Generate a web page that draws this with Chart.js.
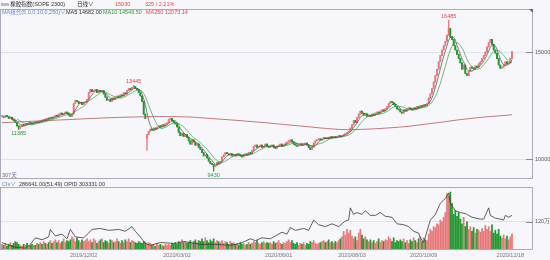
<!DOCTYPE html>
<html>
<head>
<meta charset="utf-8">
<script src="https://cdn.jsdelivr.net/npm/chart.js@4/dist/chart.umd.min.js"></script>
<style>
  body { margin: 0; background: #f7f7fb; }
  #wrap { position: relative; width: 550px; height: 260px; overflow: hidden; font-family: "Liberation Sans", "Noto Sans CJK SC", sans-serif; }
  canvas { position: absolute; left: 0; }
  #kline { top: 0; }
  #vol { top: 183px; }
  .t { position: absolute; font-size: 5.5px; line-height: 1; white-space: nowrap; z-index: 2; }
  .red { color: #e0474c; }
  .green { color: #2f9a3a; }
  .blue { color: #6a86c0; }
  .dark { color: #333; }
  #corner { position: absolute; left: 529px; top: 9px; width: 0; height: 0; border-left: 4px solid transparent; border-top: 4px solid #666; z-index: 2; }
</style>
</head>
<body>
<div id="wrap">
  <canvas id="kline" width="550" height="183"></canvas>
  <canvas id="vol" width="550" height="77"></canvas>

  <div class="t dark" style="left:1px;top:2px">∞∞ 橡胶指数(SOPE 2300)</div>
  <div class="t dark" style="left:77px;top:2px">日线∨</div>
  <div class="t red" style="left:115px;top:2px">15030</div>
  <div class="t red" style="left:145px;top:2px">325 / 2.21%</div>

  <div class="t blue" style="left:2px;top:9.5px">MA组合(5,0,0,10,0,250)∨</div>
  <div class="t dark" style="left:66px;top:9.5px">MA5 14682.00</div>
  <div class="t green" style="left:103px;top:9.5px">MA10 14546.50</div>
  <div class="t red" style="left:146px;top:9.5px">MA250 12073.14</div>

  <div class="t" style="left:2px;top:173px;color:#6a6a90">307天</div>
  <div class="t blue" style="left:2px;top:182px">CIs∨</div>
  <div class="t dark" style="left:19px;top:182px">286641.00(51:49)</div>
  <div class="t dark" style="left:64px;top:182px">OPID 303331.00</div>
  <div id="corner"></div>
</div>

<script>
// daily closes, 307 trading days
const closes = [
  12000, 11950, 12050, 11980, 11900, 11950, 11850, 11800, 11700, 11550,
  11450, 11520, 11600, 11580, 11650, 11620, 11700, 11680, 11650, 11720,
  11700, 11760, 11720, 11800, 11780, 11850, 11820, 11900, 11880, 11950,
  11920, 11980, 12050, 12000, 12100, 12150, 12080, 12120, 12200, 12150,
  12050, 12000, 12100, 12600, 12750, 12700, 12600, 12650, 12550, 12650,
  12700, 12800, 13100, 13250, 13150, 13200, 13250, 13100, 13200, 13150,
  13200, 13050, 12900, 12750, 12800, 12700, 12850, 12800, 12900, 12950,
  12900, 13000, 12950, 13100, 13050, 13200, 13300, 13250, 13350, 13400,
  13300, 13250, 13100, 12950, 12700, 12100, 11900, 11150, 11300, 11400,
  11350, 11450, 11400, 11500, 11550, 11500, 11600, 11550, 11650, 11700,
  11850, 11900, 11800, 11700, 11650, 11500, 11250, 11100, 11200, 11050,
  11150, 11000, 10850, 10700, 10900, 10800, 10650, 10700, 10550, 10450,
  10300, 10150, 10200, 10050, 9900, 9800, 9750, 9650, 9700, 9850,
  9800, 9900, 10100, 10200, 10300, 10250, 10200, 10250, 10150, 10200,
  10150, 10250, 10200, 10150, 10100, 10200, 10250, 10200, 10300, 10250,
  10400, 10600, 10650, 10550, 10600, 10650, 10550, 10600, 10700, 10600,
  10550, 10600, 10650, 10550, 10500, 10600, 10650, 10700, 10600, 10650,
  10750, 10800, 10850, 10900, 10800, 10700, 10650, 10600, 10650, 10700,
  10650, 10700, 10750, 10650, 10550, 10450, 10550, 10750, 10850, 10900,
  10950, 10900, 10950, 11000, 10950, 11000, 10950, 11050, 11000, 11050,
  11000, 11050, 11100, 11050, 11100, 11150, 11200, 11250, 11300, 11450,
  11600, 11800, 11700, 11950, 12100, 12250, 12150, 12050, 12100, 12000,
  12050, 12000, 12100, 12050, 12150, 12200, 12150, 12250, 12300, 12250,
  12350, 12450, 12600, 12700, 12650, 12550, 12450, 12350, 12300, 12200,
  12150, 12300, 12250, 12350, 12400, 12350, 12300, 12400, 12350, 12450,
  12400, 12500, 12450, 12550, 12500, 12600, 12850, 13050, 13300, 13600,
  13900, 14200, 14550, 14850, 15100, 15300, 15500, 15800, 16100, 15700,
  15600, 15300, 15100, 14900, 14700, 14500, 14200, 14400, 14000, 13900,
  14100, 14300, 14250, 14200, 14350, 14300, 14450, 14550, 14700, 14850,
  15000, 15250, 15450, 15600, 15350, 15100, 14950, 14700, 14400, 14250,
  14300, 14400, 14550, 14450, 14500, 14700, 15030
];

// gap opening after the holiday
const gapIdx = [87];
const gapOpen = [10950];

// marked extremes
const extIdx = [10, 79, 127, 268];
const extVal = [11385, 13445, 9430, 16485];
const extKind = ['low', 'high', 'low', 'high'];
const extraLowIdx = [87];
const extraLow = [10400];

// MA250
const ma250Idx = [0, 35, 75, 107, 125, 155, 180, 200, 212, 239, 259, 281, 306];
const ma250Val = [11700, 11830, 11960, 11980, 11900, 11720, 11540, 11400, 11380, 11500, 11680, 11900, 12073];

// volume, 万
const volumes = [
  24, 20, 28, 16, 24, 32, 20, 28, 36, 32,
  24, 20, 16, 24, 20, 28, 16, 20, 24, 20,
  20, 28, 24, 32, 24, 36, 28, 24, 32, 40,
  28, 36, 44, 32, 40, 28, 36, 48, 32, 40,
  36, 44, 56, 48, 36, 52, 40, 32, 44, 36,
  40, 48, 36, 44, 32, 48, 40, 28, 36, 44,
  48, 32, 40, 36, 28, 44, 40, 32, 36, 48,
  36, 28, 40, 32, 44, 36, 48, 32, 40, 36,
  32, 28, 36, 32, 28, 36, 32, 24, 32, 28,
  20, 24, 16, 28, 20, 24, 20, 16, 24, 20,
  24, 20, 28, 24, 32, 24, 36, 28, 44, 32,
  36, 28, 32, 40, 28, 36, 44, 32, 40, 36,
  48, 36, 52, 40, 32, 44, 36, 48, 32, 40,
  36, 32, 40, 28, 36, 32, 24, 36, 28, 32,
  24, 28, 20, 32, 24, 28, 20, 24, 32, 24,
  28, 36, 32, 40, 28, 24, 32, 36, 28, 32,
  28, 32, 24, 36, 28, 32, 40, 28, 24, 32,
  28, 36, 44, 32, 40, 28, 24, 32, 20, 28,
  24, 32, 20, 28, 24, 36, 32, 40, 28, 24,
  28, 32, 36, 40, 32, 36, 44, 32, 36, 28,
  36, 32, 40, 48, 56, 80, 64, 88, 72, 84,
  60, 48, 56, 40, 72, 88, 64, 48, 56, 44,
  36, 44, 32, 40, 28, 36, 48, 32, 40, 36,
  44, 40, 56, 48, 36, 52, 32, 40, 36, 44,
  36, 48, 32, 40, 28, 44, 36, 52, 40, 32,
  48, 56, 36, 52, 44, 40, 68, 88, 80, 100,
  96, 112, 108, 128, 120, 140, 160, 240, 232, 248,
  200, 152, 168, 144, 160, 132, 112, 140, 100, 120,
  88, 100, 80, 96, 72, 88, 84, 76, 92, 80,
  104, 88, 100, 80, 108, 72, 84, 68, 88, 60,
  52, 64, 48, 60, 44, 56, 68
];

// open interest line, 万
const oiIdx = [0, 4, 8, 14, 17, 20, 24, 28, 29, 32, 36, 39, 41, 44, 49, 52, 54, 59, 64, 70, 74, 78, 80, 83, 86, 89,
  95, 104, 109, 113, 119, 128, 137, 143, 149, 152, 156, 161, 164, 168, 171, 173, 176, 181, 184, 187, 190, 194, 198,
  202, 206, 208, 209, 211, 213, 216, 218, 221, 224, 227, 230, 234, 237, 241, 244, 247, 250, 251, 253, 255, 257, 260,
  263, 266, 268, 269, 272, 275, 278, 282, 287, 289, 292, 293, 296, 299, 301, 302, 304, 306];
const oiVal = [32, 20, 12, 8, 24, 52, 44, 56, 88, 60, 68, 48, 88, 56, 52, 72, 88, 92, 84, 88, 80, 100, 80, 56, 28, 20,
  32, 28, 36, 32, 24, 24, 20, 28, 48, 40, 52, 48, 60, 76, 68, 96, 84, 92, 84, 128, 108, 100, 112,
  100, 124, 128, 180, 152, 160, 152, 168, 148, 148, 160, 144, 140, 112, 108, 100, 80, 72, 52, 32, 80, 128, 152,
  200, 220, 244, 200, 168, 160, 156, 140, 132, 132, 180, 148, 136, 132, 128, 148, 140, 148];

const tickIdx = [49, 105, 166, 210, 253, 305];
const tickLabels = ['2019/12/02', '2020/03/02', '2020/06/01', '2020/08/03', '2020/10/09', '2020/12/18'];
const priceTicks = [10000, 15000];

const UP = '#e5797b';
const DOWN = '#23962f';
const FONT = { family: 'Liberation Sans', size: 5.5 };

// candle opens follow the previous close
const opens = closes.map((c, i) => i === 0 ? c : closes[i - 1]);
gapIdx.forEach((g, k) => { opens[g] = gapOpen[k]; });
const highs = closes.map((c, i) => Math.max(c, opens[i]));
const lows = closes.map((c, i) => Math.min(c, opens[i]));
extIdx.forEach((g, k) => {
  if (extKind[k] === 'high') highs[g] = extVal[k]; else lows[g] = extVal[k];
});
extraLowIdx.forEach((g, k) => { lows[g] = extraLow[k]; });

const colors = closes.map((c, i) => c >= opens[i] ? UP : DOWN);

function movingAvg(arr, n) {
  return arr.map((_, i) => {
    if (i < n - 1) return null;
    let s = 0;
    for (let j = i - n + 1; j <= i; j++) s += arr[j];
    return s / n;
  });
}
const ma5 = movingAvg(closes, 5);
const ma10 = movingAvg(closes, 10);

const X_MIN = -1.2, X_MAX = 318.6;

// border round the plot area and short ticks at the right edge
const frame = {
  id: 'frame',
  afterDraw(chart) {
    const { ctx, chartArea: a } = chart;
    ctx.save();
    ctx.strokeStyle = '#a9adbb';
    ctx.lineWidth = 1;
    ctx.strokeRect(Math.round(a.left) + 0.5, Math.round(a.top) + 0.5, Math.round(a.right - a.left) - 1, Math.round(a.bottom - a.top) - 1);
    const y = chart.scales.y;
    ctx.strokeStyle = '#8a8a8a';
    y.ticks.forEach(t => {
      const py = Math.round(y.getPixelForValue(t.value)) + 0.5;
      ctx.beginPath();
      ctx.moveTo(a.right - 7, py);
      ctx.lineTo(a.right, py);
      ctx.stroke();
    });
    ctx.restore();
  }
};

const extLabels = {
  id: 'extLabels',
  afterDatasetsDraw(chart) {
    const { ctx, scales } = chart;
    ctx.save();
    ctx.font = '5.5px "Liberation Sans"';
    ctx.textAlign = 'center';
    extIdx.forEach((g, k) => {
      const px = scales.x.getPixelForValue(g);
      const py = scales.y.getPixelForValue(extVal[k]);
      if (extKind[k] === 'high') {
        ctx.fillStyle = '#e0474c';
        ctx.textBaseline = 'bottom';
        ctx.fillText(String(extVal[k]), px, py - 1);
      } else {
        ctx.fillStyle = '#2f9a3a';
        ctx.textBaseline = 'top';
        ctx.fillText(String(extVal[k]), px, py + 1);
      }
    });
    ctx.restore();
  }
};

const idx = closes.map((_, i) => i);

new Chart(document.getElementById('kline'), {
  type: 'bar',
  data: {
    datasets: [
      {
        label: 'wick',
        data: idx.map(i => ({ x: i, y: [lows[i], highs[i]] })),
        backgroundColor: colors,
        barThickness: 0.7,
        grouped: false,
        order: 3
      },
      {
        label: 'body',
        data: idx.map(i => ({ x: i, y: [opens[i], closes[i]] })),
        backgroundColor: colors,
        barThickness: 1.2,
        minBarLength: 1,
        grouped: false,
        order: 2
      },
      {
        type: 'line', label: 'MA5',
        data: idx.map(i => ({ x: i, y: ma5[i] })),
        borderColor: '#4a4a4a', borderWidth: 0.7, pointRadius: 0, order: 1
      },
      {
        type: 'line', label: 'MA10',
        data: idx.map(i => ({ x: i, y: ma10[i] })),
        borderColor: '#3a9e48', borderWidth: 0.7, pointRadius: 0, order: 1
      },
      {
        type: 'line', label: 'MA250',
        data: ma250Idx.map((g, k) => ({ x: g, y: ma250Val[k] })),
        borderColor: '#b86a6a', borderWidth: 0.9, pointRadius: 0, tension: 0.4, order: 1
      }
    ]
  },
  options: {
    responsive: false,
    animation: false,
    layout: { padding: { top: 9, bottom: 1, left: 0, right: 0 } },
    plugins: { legend: { display: false }, tooltip: { enabled: false } },
    scales: {
      x: { type: 'linear', min: X_MIN, max: X_MAX, offset: false, display: false },
      y: {
        position: 'right', min: 9083, max: 17018,
        afterBuildTicks: s => { s.ticks = priceTicks.map(v => ({ value: v })); },
        afterFit: s => { s.width = 17; },
        ticks: { font: FONT, color: '#555', padding: 1, callback: v => String(v) },
        grid: { color: '#e1e2ea', tickLength: 1, tickColor: '#e1e2ea' },
        border: { display: false }
      }
    }
  },
  plugins: [frame, extLabels]
});

new Chart(document.getElementById('vol'), {
  type: 'bar',
  data: {
    datasets: [
      {
        label: 'volume',
        data: idx.map(i => ({ x: i, y: volumes[i] })),
        backgroundColor: colors,
        barThickness: 1.1,
        grouped: false,
        order: 2
      },
      {
        type: 'line', label: 'OPID',
        data: oiIdx.map((g, k) => ({ x: g, y: oiVal[k] })),
        borderColor: '#3a3a3a', borderWidth: 0.8, pointRadius: 0, order: 1
      }
    ]
  },
  options: {
    responsive: false,
    animation: false,
    layout: { padding: 0 },
    plugins: { legend: { display: false }, tooltip: { enabled: false } },
    scales: {
      x: {
        type: 'linear', min: X_MIN, max: X_MAX, offset: false,
        afterBuildTicks: s => { s.ticks = tickIdx.map(v => ({ value: v })); },
        afterFit: s => { s.height = 10; },
        ticks: {
          font: FONT, color: '#777', padding: 2, autoSkip: false, maxRotation: 0,
          callback: v => tickLabels[tickIdx.indexOf(v)]
        },
        grid: { display: false, drawTicks: false },
        border: { display: false }
      },
      y: {
        position: 'right', min: 0, max: 268,
        afterBuildTicks: s => { s.ticks = [{ value: 120 }]; },
        afterFit: s => { s.width = 17; },
        ticks: { font: FONT, color: '#555', padding: 1, callback: () => '120万' },
        grid: { color: '#e1e2ea', tickLength: 1, tickColor: '#e1e2ea' },
        border: { display: false }
      }
    }
  },
  plugins: [frame]
});
</script>
</body>
</html>
